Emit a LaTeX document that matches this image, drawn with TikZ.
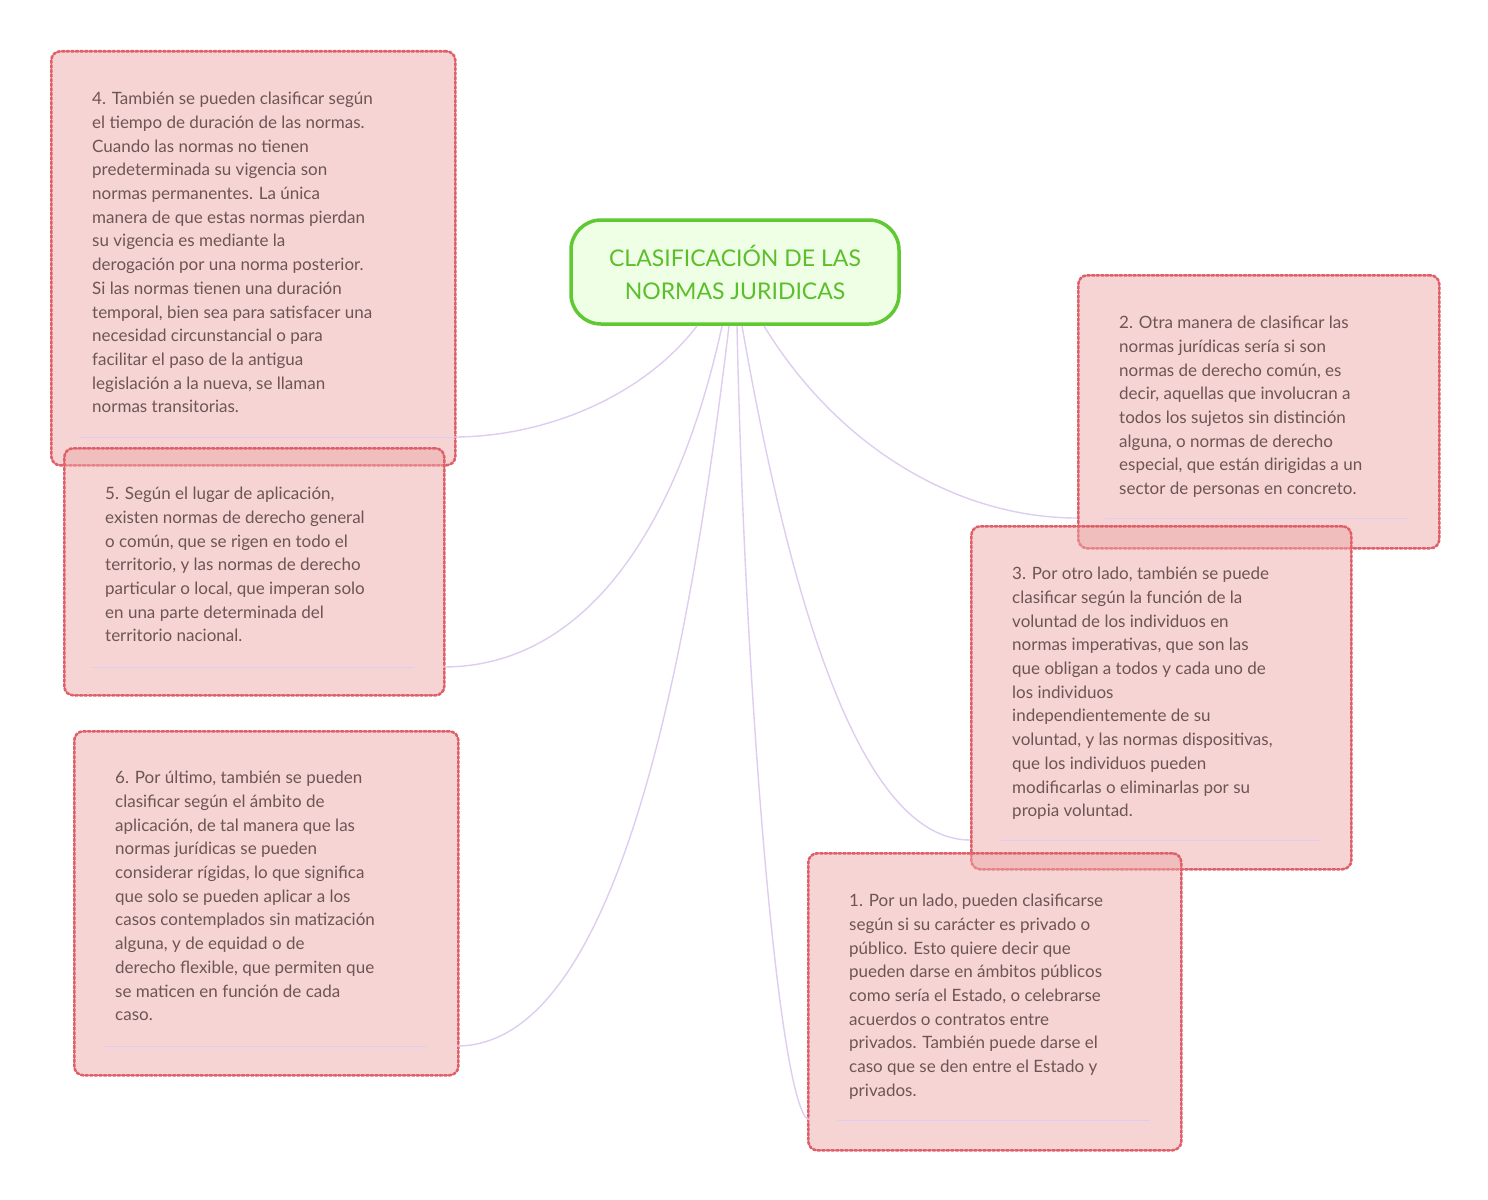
\documentclass[tikz,border=0pt]{standalone}
\usepackage{fontspec}
\setmainfont{Lato}
\definecolor{boxfill}{RGB}{237,169,169}
\definecolor{boxline}{RGB}{224,96,106}
\definecolor{txt}{RGB}{110,85,85}
\definecolor{lav}{RGB}{222,205,240}
\definecolor{gfill}{RGB}{238,255,230}
\definecolor{gline}{RGB}{96,200,48}
\definecolor{gtxt}{RGB}{91,190,42}
\begin{document}
\begin{tikzpicture}[x=1pt,y=-1pt,
  box/.style={draw=boxline,line width=2.6pt,dotted,line cap=round,fill=boxfill,fill opacity=0.5,draw opacity=1,rounded corners=9pt,anchor=north west,inner sep=0pt},
  btxt/.style={anchor=north west,align=left,text=txt,font=\fontsize{17}{23.7}\selectfont,inner sep=0pt},
  uline/.style={draw=lav,line width=1pt},
  conn/.style={draw=lav,line width=1.4pt}]
\useasboundingbox (0,0) rectangle (1488,1199);
\node[box,minimum width=404,minimum height=414] (b4) at (50,50) {};
\node[box,minimum width=380,minimum height=247] (b5) at (63,447) {};
\node[box,minimum width=384,minimum height=344] (b6) at (73,730) {};
\node[box,minimum width=361,minimum height=273] (b2) at (1077,274) {};
\node[box,minimum width=380,minimum height=343] (b3) at (970,525) {};
\node[box,minimum width=373,minimum height=297] (b1) at (807,852) {};
\node[draw=gline,line width=3.5pt,fill=gfill,rounded corners=30pt,minimum width=328,minimum height=104,align=center,text=gtxt,font=\fontsize{23}{33}\selectfont] (c) at (735,272) {CLASIFICACIÓN DE LAS\\NORMAS JURIDICAS};

\node[btxt] (t4) at (92,92) {4. También se pueden clasificar según\\el tiempo de duración de las normas.\\Cuando las normas no tienen\\predeterminada su vigencia son\\normas permanentes. La única\\manera de que estas normas pierdan\\su vigencia es mediante la\\derogación por una norma posterior.\\Si las normas tienen una duración\\temporal, bien sea para satisfacer una\\necesidad circunstancial o para\\facilitar el paso de la antigua\\legislación a la nueva, se llaman\\normas transitorias.};
\node[btxt] (t5) at (105,487) {5. Según el lugar de aplicación,\\existen normas de derecho general\\o común, que se rigen en todo el\\territorio, y las normas de derecho\\particular o local, que imperan solo\\en una parte determinada del\\territorio nacional.};
\node[btxt] (t6) at (115,771) {6. Por último, también se pueden\\clasificar según el ámbito de\\aplicación, de tal manera que las\\normas jurídicas se pueden\\considerar rígidas, lo que significa\\que solo se pueden aplicar a los\\casos contemplados sin matización\\alguna, y de equidad o de\\derecho flexible, que permiten que\\se maticen en función de cada\\caso.};
\node[btxt] (t2) at (1119,316) {2. Otra manera de clasificar las\\normas jurídicas sería si son\\normas de derecho común, es\\decir, aquellas que involucran a\\todos los sujetos sin distinción\\alguna, o normas de derecho\\especial, que están dirigidas a un\\sector de personas en concreto.};
\node[btxt] (t3) at (1012,567) {3. Por otro lado, también se puede\\clasificar según la función de la\\voluntad de los individuos en\\normas imperativas, que son las\\que obligan a todos y cada uno de\\los individuos\\independientemente de su\\voluntad, y las normas dispositivas,\\que los individuos pueden\\modificarlas o eliminarlas por su\\propia voluntad.};
\node[btxt] (t1) at (849,894) {1. Por un lado, pueden clasificarse\\según si su carácter es privado o\\público. Esto quiere decir que\\pueden darse en ámbitos públicos\\como sería el Estado, o celebrarse\\acuerdos o contratos entre\\privados. También puede darse el\\caso que se den entre el Estado y\\privados.};

\coordinate (e4) at (454,437); \coordinate (e5) at (443,667);
\coordinate (e6) at (457,1046); \coordinate (e2) at (1077,518);
\coordinate (e3) at (970,840); \coordinate (e1) at (810,1120);
\draw[uline] (80,437) -- (e4);
\draw[uline] (92,667) -- (414,667);
\draw[uline] (103,1046) -- (427,1046);
\draw[uline] (1105,518) -- (1408,518);
\draw[uline] (1000,840) -- (1320,840);
\draw[uline] (837,1120) -- (1150,1120);

\draw[conn] (697,326) .. controls (640,400) and (540,437) .. (e4);
\draw[conn] (722,326) .. controls (680,520) and (590,667) .. (e5);
\draw[conn] (729,326) .. controls (690,650) and (620,1046) .. (e6);
\draw[conn] (764,326) .. controls (840,450) and (960,518) .. (e2);
\draw[conn] (742,326) .. controls (790,600) and (860,840) .. (e3);
\draw[conn] (737,326) .. controls (745,700) and (780,1120) .. (e1);
\end{tikzpicture}
\end{document}
